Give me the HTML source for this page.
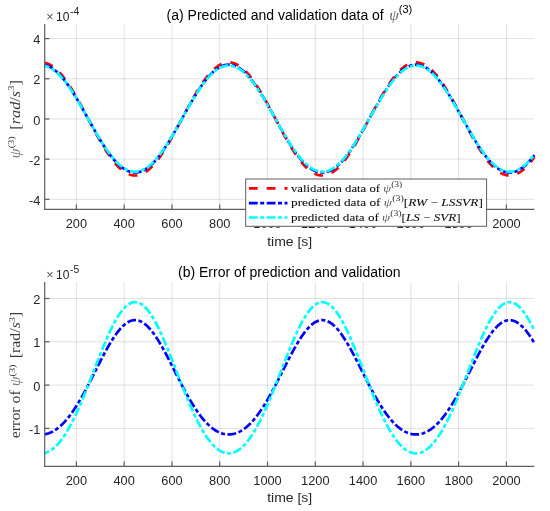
<!DOCTYPE html>
<html><head><meta charset="utf-8"><title>plot</title>
<style>
html,body{margin:0;padding:0;background:#fff;}
body{width:550px;height:511px;overflow:hidden;}
svg{display:block;}
.tk{font-family:"Liberation Sans",Arial,sans-serif;font-size:12.8px;fill:#262626;}
.ex{font-family:"Liberation Sans",Arial,sans-serif;font-size:12px;fill:#262626;}
.exs{font-size:10.4px;}
.ti{font-family:"Liberation Sans",Arial,sans-serif;font-size:14px;fill:#000;}
.psi{font-family:"Liberation Serif",serif;font-style:italic;fill:#666;font-size:15.5px;}
.tsup{font-size:11px;}
.xl{font-family:"Liberation Sans",Arial,sans-serif;font-size:13.4px;fill:#262626;}
.yl{font-family:"Liberation Serif",serif;font-size:14px;fill:#3c3c3c;}
.ypsi{font-style:italic;fill:#808080;}
.it{font-style:italic;}
.ysup{font-size:9px;}
.lg{font-family:"Liberation Serif",serif;font-size:10.7px;fill:#111;stroke:#111;stroke-width:0.08px;}
.lpsi{font-style:italic;fill:#555;stroke:none;}
.lsup{font-size:8px;fill:#333;stroke:none;}
</style></head>
<body>
<svg width="550" height="511" viewBox="0 0 550 511">
<rect width="550" height="511" fill="#ffffff"/>
<line x1="76.40" y1="24.00" x2="76.40" y2="209.30" stroke="#262626" stroke-opacity="0.135" stroke-width="1"/>
<line x1="124.18" y1="24.00" x2="124.18" y2="209.30" stroke="#262626" stroke-opacity="0.135" stroke-width="1"/>
<line x1="171.96" y1="24.00" x2="171.96" y2="209.30" stroke="#262626" stroke-opacity="0.135" stroke-width="1"/>
<line x1="219.73" y1="24.00" x2="219.73" y2="209.30" stroke="#262626" stroke-opacity="0.135" stroke-width="1"/>
<line x1="267.51" y1="24.00" x2="267.51" y2="209.30" stroke="#262626" stroke-opacity="0.135" stroke-width="1"/>
<line x1="315.29" y1="24.00" x2="315.29" y2="209.30" stroke="#262626" stroke-opacity="0.135" stroke-width="1"/>
<line x1="363.07" y1="24.00" x2="363.07" y2="209.30" stroke="#262626" stroke-opacity="0.135" stroke-width="1"/>
<line x1="410.85" y1="24.00" x2="410.85" y2="209.30" stroke="#262626" stroke-opacity="0.135" stroke-width="1"/>
<line x1="458.62" y1="24.00" x2="458.62" y2="209.30" stroke="#262626" stroke-opacity="0.135" stroke-width="1"/>
<line x1="506.40" y1="24.00" x2="506.40" y2="209.30" stroke="#262626" stroke-opacity="0.135" stroke-width="1"/>
<line x1="44.70" y1="199.31" x2="534.40" y2="199.31" stroke="#262626" stroke-opacity="0.135" stroke-width="1"/>
<line x1="44.70" y1="159.13" x2="534.40" y2="159.13" stroke="#262626" stroke-opacity="0.135" stroke-width="1"/>
<line x1="44.70" y1="118.95" x2="534.40" y2="118.95" stroke="#262626" stroke-opacity="0.135" stroke-width="1"/>
<line x1="44.70" y1="78.77" x2="534.40" y2="78.77" stroke="#262626" stroke-opacity="0.135" stroke-width="1"/>
<line x1="44.70" y1="38.59" x2="534.40" y2="38.59" stroke="#262626" stroke-opacity="0.135" stroke-width="1"/>
<path d="M44.70,62.74 L45.52,62.93 L46.33,63.17 L47.15,63.44 L47.96,63.76 L48.78,64.12 L49.60,64.52 L50.41,64.96 L51.23,65.44 L52.05,65.96 L52.86,66.52 L53.68,67.12 L54.49,67.76 L55.31,68.44 L56.13,69.16 L56.94,69.91 L57.76,70.70 L58.57,71.52 L59.39,72.39 L60.21,73.28 L61.02,74.21 L61.84,75.18 L62.66,76.17 L63.47,77.20 L64.29,78.26 L65.10,79.35 L65.92,80.47 L66.74,81.62 L67.55,82.80 L68.37,84.00 L69.19,85.23 L70.00,86.49 L70.82,87.77 L71.63,89.07 L72.45,90.40 L73.27,91.75 L74.08,93.11 L74.90,94.50 L75.71,95.90 L76.53,97.33 L77.35,98.77 L78.16,100.22 L78.98,101.69 L79.80,103.17 L80.61,104.66 L81.43,106.16 L82.24,107.68 L83.06,109.20 L83.88,110.73 L84.69,112.26 L85.51,113.80 L86.32,115.35 L87.14,116.89 L87.96,118.44 L88.77,119.99 L89.59,121.54 L90.41,123.08 L91.22,124.63 L92.04,126.16 L92.85,127.70 L93.67,129.22 L94.49,130.74 L95.30,132.25 L96.12,133.75 L96.93,135.24 L97.75,136.72 L98.57,138.18 L99.38,139.63 L100.20,141.06 L101.02,142.48 L101.83,143.88 L102.65,145.26 L103.46,146.62 L104.28,147.96 L105.10,149.28 L105.91,150.57 L106.73,151.84 L107.54,153.09 L108.36,154.31 L109.18,155.51 L109.99,156.68 L110.81,157.81 L111.63,158.93 L112.44,160.01 L113.26,161.05 L114.07,162.07 L114.89,163.06 L115.71,164.01 L116.52,164.93 L117.34,165.81 L118.16,166.66 L118.97,167.48 L119.79,168.25 L120.60,168.99 L121.42,169.70 L122.24,170.36 L123.05,170.99 L123.87,171.57 L124.68,172.12 L125.50,172.63 L126.32,173.09 L127.13,173.52 L127.95,173.91 L128.77,174.25 L129.58,174.56 L130.40,174.82 L131.21,175.04 L132.03,175.21 L132.85,175.35 L133.66,175.44 L134.48,175.49 L135.29,175.50 L136.11,175.47 L136.93,175.39 L137.74,175.27 L138.56,175.11 L139.38,174.91 L140.19,174.66 L141.01,174.38 L141.82,174.05 L142.64,173.68 L143.46,173.27 L144.27,172.82 L145.09,172.32 L145.90,171.79 L146.72,171.22 L147.54,170.61 L148.35,169.96 L149.17,169.27 L149.99,168.55 L150.80,167.79 L151.62,166.99 L152.43,166.15 L153.25,165.28 L154.07,164.38 L154.88,163.44 L155.70,162.47 L156.51,161.46 L157.33,160.42 L158.15,159.36 L158.96,158.26 L159.78,157.13 L160.60,155.97 L161.41,154.79 L162.23,153.58 L163.04,152.34 L163.86,151.08 L164.68,149.79 L165.49,148.48 L166.31,147.15 L167.13,145.80 L167.94,144.43 L168.76,143.03 L169.57,141.62 L170.39,140.20 L171.21,138.75 L172.02,137.30 L172.84,135.82 L173.65,134.34 L174.47,132.84 L175.29,131.34 L176.10,129.82 L176.92,128.30 L177.74,126.77 L178.55,125.23 L179.37,123.69 L180.18,122.15 L181.00,120.60 L181.82,119.05 L182.63,117.50 L183.45,115.96 L184.26,114.41 L185.08,112.87 L185.90,111.33 L186.71,109.80 L187.53,108.28 L188.35,106.76 L189.16,105.25 L189.98,103.76 L190.79,102.27 L191.61,100.80 L192.43,99.34 L193.24,97.89 L194.06,96.46 L194.87,95.05 L195.69,93.66 L196.51,92.28 L197.32,90.93 L198.14,89.59 L198.96,88.28 L199.77,86.99 L200.59,85.73 L201.40,84.49 L202.22,83.27 L203.04,82.08 L203.85,80.92 L204.67,79.79 L205.48,78.69 L206.30,77.62 L207.12,76.58 L207.93,75.57 L208.75,74.59 L209.57,73.64 L210.38,72.74 L211.20,71.86 L212.01,71.02 L212.83,70.22 L213.65,69.45 L214.46,68.72 L215.28,68.03 L216.10,67.37 L216.91,66.76 L217.73,66.18 L218.54,65.64 L219.36,65.15 L220.18,64.69 L220.99,64.27 L221.81,63.90 L222.62,63.56 L223.44,63.27 L224.26,63.02 L225.07,62.81 L225.89,62.65 L226.71,62.52 L227.52,62.44 L228.34,62.40 L229.15,62.40 L229.97,62.45 L230.79,62.54 L231.60,62.67 L232.42,62.84 L233.23,63.05 L234.05,63.31 L234.87,63.61 L235.68,63.94 L236.50,64.33 L237.32,64.75 L238.13,65.21 L238.95,65.71 L239.76,66.25 L240.58,66.83 L241.40,67.46 L242.21,68.11 L243.03,68.81 L243.84,69.55 L244.66,70.32 L245.48,71.13 L246.29,71.97 L247.11,72.85 L247.93,73.77 L248.74,74.71 L249.56,75.70 L250.37,76.71 L251.19,77.75 L252.01,78.83 L252.82,79.94 L253.64,81.07 L254.45,82.24 L255.27,83.43 L256.09,84.65 L256.90,85.89 L257.72,87.16 L258.54,88.45 L259.35,89.77 L260.17,91.10 L260.98,92.46 L261.80,93.84 L262.62,95.24 L263.43,96.65 L264.25,98.08 L265.07,99.53 L265.88,100.99 L266.70,102.46 L267.51,103.95 L268.33,105.45 L269.15,106.96 L269.96,108.48 L270.78,110.00 L271.59,111.53 L272.41,113.07 L273.23,114.61 L274.04,116.16 L274.86,117.71 L275.68,119.25 L276.49,120.80 L277.31,122.35 L278.12,123.89 L278.94,125.43 L279.76,126.97 L280.57,128.50 L281.39,130.02 L282.20,131.54 L283.02,133.04 L283.84,134.53 L284.65,136.02 L285.47,137.49 L286.29,138.94 L287.10,140.38 L287.92,141.81 L288.73,143.22 L289.55,144.61 L290.37,145.98 L291.18,147.33 L292.00,148.65 L292.81,149.96 L293.63,151.24 L294.45,152.50 L295.26,153.74 L296.08,154.94 L296.90,156.12 L297.71,157.28 L298.53,158.40 L299.34,159.50 L300.16,160.56 L300.98,161.59 L301.79,162.59 L302.61,163.56 L303.42,164.50 L304.24,165.40 L305.06,166.26 L305.87,167.09 L306.69,167.89 L307.51,168.65 L308.32,169.37 L309.14,170.05 L309.95,170.69 L310.77,171.30 L311.59,171.86 L312.40,172.39 L313.22,172.88 L314.04,173.32 L314.85,173.73 L315.67,174.09 L316.48,174.42 L317.30,174.70 L318.12,174.94 L318.93,175.13 L319.75,175.29 L320.56,175.40 L321.38,175.47 L322.20,175.50 L323.01,175.49 L323.83,175.43 L324.65,175.33 L325.46,175.19 L326.28,175.01 L327.09,174.78 L327.91,174.52 L328.73,174.21 L329.54,173.86 L330.36,173.47 L331.17,173.04 L331.99,172.56 L332.81,172.05 L333.62,171.50 L334.44,170.91 L335.26,170.28 L336.07,169.61 L336.89,168.90 L337.70,168.15 L338.52,167.37 L339.34,166.55 L340.15,165.70 L340.97,164.81 L341.78,163.89 L342.60,162.93 L343.42,161.94 L344.23,160.92 L345.05,159.87 L345.87,158.78 L346.68,157.67 L347.50,156.52 L348.31,155.35 L349.13,154.16 L349.95,152.93 L350.76,151.68 L351.58,150.41 L352.39,149.11 L353.21,147.79 L354.03,146.44 L354.84,145.08 L355.66,143.70 L356.48,142.30 L357.29,140.88 L358.11,139.44 L358.92,137.99 L359.74,136.52 L360.56,135.05 L361.37,133.56 L362.19,132.06 L363.01,130.54 L363.82,129.02 L364.64,127.50 L365.45,125.96 L366.27,124.42 L367.09,122.88 L367.90,121.34 L368.72,119.79 L369.53,118.24 L370.35,116.69 L371.17,115.15 L371.98,113.60 L372.80,112.06 L373.62,110.53 L374.43,109.00 L375.25,107.48 L376.06,105.97 L376.88,104.47 L377.70,102.97 L378.51,101.50 L379.33,100.03 L380.14,98.58 L380.96,97.14 L381.78,95.72 L382.59,94.32 L383.41,92.93 L384.23,91.57 L385.04,90.22 L385.86,88.90 L386.67,87.60 L387.49,86.32 L388.31,85.07 L389.12,83.84 L389.94,82.64 L390.75,81.47 L391.57,80.32 L392.39,79.21 L393.20,78.12 L394.02,77.07 L394.84,76.04 L395.65,75.05 L396.47,74.09 L397.28,73.16 L398.10,72.27 L398.92,71.41 L399.73,70.59 L400.55,69.81 L401.36,69.06 L402.18,68.35 L403.00,67.68 L403.81,67.04 L404.63,66.45 L405.45,65.89 L406.26,65.38 L407.08,64.90 L407.89,64.47 L408.71,64.07 L409.53,63.72 L410.34,63.41 L411.16,63.14 L411.98,62.91 L412.79,62.72 L413.61,62.58 L414.42,62.47 L415.24,62.41 L416.06,62.40 L416.87,62.42 L417.69,62.49 L418.50,62.60 L419.32,62.75 L420.14,62.95 L420.95,63.18 L421.77,63.46 L422.59,63.78 L423.40,64.14 L424.22,64.54 L425.03,64.98 L425.85,65.47 L426.67,65.99 L427.48,66.55 L428.30,67.16 L429.11,67.80 L429.93,68.48 L430.75,69.19 L431.56,69.95 L432.38,70.74 L433.20,71.57 L434.01,72.43 L434.83,73.33 L435.64,74.26 L436.46,75.23 L437.28,76.22 L438.09,77.25 L438.91,78.32 L439.72,79.41 L440.54,80.53 L441.36,81.68 L442.17,82.86 L442.99,84.06 L443.81,85.30 L444.62,86.55 L445.44,87.83 L446.25,89.14 L447.07,90.47 L447.89,91.81 L448.70,93.18 L449.52,94.57 L450.33,95.98 L451.15,97.40 L451.97,98.84 L452.78,100.29 L453.60,101.76 L454.42,103.24 L455.23,104.74 L456.05,106.24 L456.86,107.75 L457.68,109.28 L458.50,110.80 L459.31,112.34 L460.13,113.88 L460.95,115.42 L461.76,116.97 L462.58,118.52 L463.39,120.07 L464.21,121.61 L465.03,123.16 L465.84,124.70 L466.66,126.24 L467.47,127.77 L468.29,129.30 L469.11,130.82 L469.92,132.33 L470.74,133.83 L471.56,135.31 L472.37,136.79 L473.19,138.25 L474.00,139.70 L474.82,141.13 L475.64,142.55 L476.45,143.95 L477.27,145.33 L478.08,146.69 L478.90,148.03 L479.72,149.34 L480.53,150.64 L481.35,151.91 L482.17,153.15 L482.98,154.37 L483.80,155.57 L484.61,156.73 L485.43,157.87 L486.25,158.98 L487.06,160.06 L487.88,161.11 L488.69,162.12 L489.51,163.11 L490.33,164.06 L491.14,164.97 L491.96,165.86 L492.78,166.70 L493.59,167.52 L494.41,168.29 L495.22,169.03 L496.04,169.73 L496.86,170.39 L497.67,171.02 L498.49,171.60 L499.30,172.15 L500.12,172.65 L500.94,173.12 L501.75,173.54 L502.57,173.93 L503.39,174.27 L504.20,174.57 L505.02,174.83 L505.83,175.05 L506.65,175.22 L507.47,175.35 L508.28,175.45 L509.10,175.49 L509.92,175.50 L510.73,175.46 L511.55,175.39 L512.36,175.27 L513.18,175.10 L514.00,174.90 L514.81,174.65 L515.63,174.36 L516.44,174.03 L517.26,173.66 L518.08,173.25 L518.89,172.79 L519.71,172.30 L520.53,171.77 L521.34,171.19 L522.16,170.58 L522.97,169.93 L523.79,169.24 L524.61,168.51 L525.42,167.75 L526.24,166.95 L527.05,166.11 L527.87,165.24 L528.69,164.33 L529.50,163.39 L530.32,162.42 L531.14,161.41 L531.95,160.37 L532.77,159.30 L533.58,158.20 L534.40,157.07" fill="none" stroke="#ff0000" stroke-width="2.70" stroke-dasharray="8.8 9" stroke-dashoffset="0.00" stroke-linejoin="round"/>
<path d="M44.70,65.02 L45.52,65.21 L46.33,65.43 L47.15,65.70 L47.96,66.01 L48.78,66.35 L49.60,66.74 L50.41,67.16 L51.23,67.63 L52.05,68.13 L52.86,68.67 L53.68,69.25 L54.49,69.87 L55.31,70.52 L56.13,71.21 L56.94,71.94 L57.76,72.70 L58.57,73.49 L59.39,74.32 L60.21,75.19 L61.02,76.08 L61.84,77.01 L62.66,77.97 L63.47,78.96 L64.29,79.98 L65.10,81.03 L65.92,82.11 L66.74,83.21 L67.55,84.35 L68.37,85.50 L69.19,86.69 L70.00,87.89 L70.82,89.12 L71.63,90.37 L72.45,91.64 L73.27,92.94 L74.08,94.25 L74.90,95.58 L75.71,96.93 L76.53,98.29 L77.35,99.67 L78.16,101.06 L78.98,102.46 L79.80,103.88 L80.61,105.31 L81.43,106.75 L82.24,108.19 L83.06,109.65 L83.88,111.11 L84.69,112.57 L85.51,114.04 L86.32,115.51 L87.14,116.99 L87.96,118.46 L88.77,119.94 L89.59,121.42 L90.41,122.89 L91.22,124.36 L92.04,125.82 L92.85,127.28 L93.67,128.73 L94.49,130.17 L95.30,131.61 L96.12,133.03 L96.93,134.45 L97.75,135.85 L98.57,137.24 L99.38,138.61 L100.20,139.97 L101.02,141.31 L101.83,142.64 L102.65,143.95 L103.46,145.23 L104.28,146.50 L105.10,147.75 L105.91,148.98 L106.73,150.18 L107.54,151.36 L108.36,152.51 L109.18,153.64 L109.99,154.75 L110.81,155.82 L111.63,156.87 L112.44,157.89 L113.26,158.88 L114.07,159.84 L114.89,160.77 L115.71,161.67 L116.52,162.53 L117.34,163.37 L118.16,164.17 L118.97,164.93 L119.79,165.67 L120.60,166.36 L121.42,167.02 L122.24,167.65 L123.05,168.24 L123.87,168.79 L124.68,169.31 L125.50,169.78 L126.32,170.22 L127.13,170.63 L127.95,170.99 L128.77,171.31 L129.58,171.60 L130.40,171.84 L131.21,172.05 L132.03,172.22 L132.85,172.34 L133.66,172.43 L134.48,172.48 L135.29,172.49 L136.11,172.46 L136.93,172.38 L137.74,172.27 L138.56,172.12 L139.38,171.93 L140.19,171.70 L141.01,171.43 L141.82,171.12 L142.64,170.77 L143.46,170.39 L144.27,169.96 L145.09,169.50 L145.90,169.00 L146.72,168.46 L147.54,167.89 L148.35,167.28 L149.17,166.63 L149.99,165.95 L150.80,165.23 L151.62,164.47 L152.43,163.69 L153.25,162.87 L154.07,162.01 L154.88,161.13 L155.70,160.21 L156.51,159.26 L157.33,158.28 L158.15,157.28 L158.96,156.24 L159.78,155.17 L160.60,154.08 L161.41,152.96 L162.23,151.82 L163.04,150.65 L163.86,149.45 L164.68,148.24 L165.49,147.00 L166.31,145.74 L167.13,144.46 L167.94,143.16 L168.76,141.84 L169.57,140.50 L170.39,139.15 L171.21,137.78 L172.02,136.40 L172.84,135.00 L173.65,133.59 L174.47,132.17 L175.29,130.74 L176.10,129.30 L176.92,127.85 L177.74,126.40 L178.55,124.93 L179.37,123.47 L180.18,122.00 L181.00,120.52 L181.82,119.05 L182.63,117.57 L183.45,116.10 L184.26,114.62 L185.08,113.15 L185.90,111.68 L186.71,110.22 L187.53,108.76 L188.35,107.32 L189.16,105.87 L189.98,104.44 L190.79,103.02 L191.61,101.61 L192.43,100.21 L193.24,98.83 L194.06,97.46 L194.87,96.11 L195.69,94.77 L196.51,93.45 L197.32,92.15 L198.14,90.87 L198.96,89.61 L199.77,88.37 L200.59,87.16 L201.40,85.97 L202.22,84.80 L203.04,83.66 L203.85,82.54 L204.67,81.45 L205.48,80.39 L206.30,79.36 L207.12,78.36 L207.93,77.39 L208.75,76.45 L209.57,75.54 L210.38,74.66 L211.20,73.82 L212.01,73.01 L212.83,72.23 L213.65,71.49 L214.46,70.79 L215.28,70.12 L216.10,69.49 L216.91,68.90 L217.73,68.34 L218.54,67.82 L219.36,67.34 L220.18,66.90 L220.99,66.50 L221.81,66.14 L222.62,65.81 L223.44,65.53 L224.26,65.29 L225.07,65.09 L225.89,64.93 L226.71,64.81 L227.52,64.73 L228.34,64.69 L229.15,64.69 L229.97,64.74 L230.79,64.82 L231.60,64.95 L232.42,65.11 L233.23,65.32 L234.05,65.57 L234.87,65.85 L235.68,66.18 L236.50,66.55 L237.32,66.96 L238.13,67.40 L238.95,67.89 L239.76,68.41 L240.58,68.97 L241.40,69.57 L242.21,70.21 L243.03,70.88 L243.84,71.59 L244.66,72.33 L245.48,73.11 L246.29,73.93 L247.11,74.77 L247.93,75.65 L248.74,76.57 L249.56,77.51 L250.37,78.49 L251.19,79.49 L252.01,80.53 L252.82,81.59 L253.64,82.69 L254.45,83.81 L255.27,84.95 L256.09,86.12 L256.90,87.32 L257.72,88.53 L258.54,89.78 L259.35,91.04 L260.17,92.32 L260.98,93.62 L261.80,94.94 L262.62,96.28 L263.43,97.64 L264.25,99.01 L265.07,100.40 L265.88,101.79 L266.70,103.21 L267.51,104.63 L268.33,106.06 L269.15,107.50 L269.96,108.95 L270.78,110.41 L271.59,111.87 L272.41,113.34 L273.23,114.81 L274.04,116.29 L274.86,117.76 L275.68,119.24 L276.49,120.72 L277.31,122.19 L278.12,123.66 L278.94,125.13 L279.76,126.59 L280.57,128.04 L281.39,129.49 L282.20,130.93 L283.02,132.36 L283.84,133.78 L284.65,135.18 L285.47,136.58 L286.29,137.96 L287.10,139.33 L287.92,140.68 L288.73,142.01 L289.55,143.33 L290.37,144.63 L291.18,145.90 L292.00,147.16 L292.81,148.40 L293.63,149.61 L294.45,150.80 L295.26,151.97 L296.08,153.11 L296.90,154.23 L297.71,155.31 L298.53,156.38 L299.34,157.41 L300.16,158.41 L300.98,159.39 L301.79,160.33 L302.61,161.25 L303.42,162.13 L304.24,162.98 L305.06,163.79 L305.87,164.57 L306.69,165.32 L307.51,166.04 L308.32,166.71 L309.14,167.36 L309.95,167.96 L310.77,168.53 L311.59,169.07 L312.40,169.56 L313.22,170.02 L314.04,170.44 L314.85,170.82 L315.67,171.16 L316.48,171.47 L317.30,171.73 L318.12,171.96 L318.93,172.14 L319.75,172.29 L320.56,172.40 L321.38,172.46 L322.20,172.49 L323.01,172.48 L323.83,172.42 L324.65,172.33 L325.46,172.20 L326.28,172.03 L327.09,171.81 L327.91,171.56 L328.73,171.27 L329.54,170.94 L330.36,170.58 L331.17,170.17 L331.99,169.72 L332.81,169.24 L333.62,168.72 L334.44,168.16 L335.26,167.57 L336.07,166.94 L336.89,166.27 L337.70,165.57 L338.52,164.84 L339.34,164.07 L340.15,163.26 L340.97,162.42 L341.78,161.55 L342.60,160.65 L343.42,159.72 L344.23,158.75 L345.05,157.76 L345.87,156.73 L346.68,155.68 L347.50,154.60 L348.31,153.50 L349.13,152.36 L349.95,151.21 L350.76,150.02 L351.58,148.82 L352.39,147.59 L353.21,146.34 L354.03,145.07 L354.84,143.78 L355.66,142.47 L356.48,141.14 L357.29,139.79 L358.11,138.43 L358.92,137.06 L359.74,135.67 L360.56,134.26 L361.37,132.85 L362.19,131.42 L363.01,129.99 L363.82,128.54 L364.64,127.09 L365.45,125.63 L366.27,124.16 L367.09,122.70 L367.90,121.22 L368.72,119.75 L369.53,118.27 L370.35,116.80 L371.17,115.32 L371.98,113.85 L372.80,112.38 L373.62,110.92 L374.43,109.46 L375.25,108.00 L376.06,106.56 L376.88,105.12 L377.70,103.70 L378.51,102.28 L379.33,100.88 L380.14,99.49 L380.96,98.11 L381.78,96.75 L382.59,95.40 L383.41,94.08 L384.23,92.77 L385.04,91.48 L385.86,90.21 L386.67,88.96 L387.49,87.73 L388.31,86.53 L389.12,85.35 L389.94,84.20 L390.75,83.07 L391.57,81.97 L392.39,80.89 L393.20,79.85 L394.02,78.83 L394.84,77.84 L395.65,76.89 L396.47,75.96 L397.28,75.07 L398.10,74.21 L398.92,73.39 L399.73,72.60 L400.55,71.84 L401.36,71.12 L402.18,70.43 L403.00,69.79 L403.81,69.17 L404.63,68.60 L405.45,68.06 L406.26,67.56 L407.08,67.11 L407.89,66.68 L408.71,66.30 L409.53,65.96 L410.34,65.66 L411.16,65.40 L411.98,65.18 L412.79,65.00 L413.61,64.86 L414.42,64.76 L415.24,64.70 L416.06,64.69 L416.87,64.71 L417.69,64.78 L418.50,64.88 L419.32,65.03 L420.14,65.22 L420.95,65.44 L421.77,65.71 L422.59,66.02 L423.40,66.37 L424.22,66.76 L425.03,67.19 L425.85,67.65 L426.67,68.16 L427.48,68.70 L428.30,69.28 L429.11,69.90 L429.93,70.56 L430.75,71.25 L431.56,71.97 L432.38,72.74 L433.20,73.53 L434.01,74.37 L434.83,75.23 L435.64,76.13 L436.46,77.06 L437.28,78.02 L438.09,79.01 L438.91,80.03 L439.72,81.09 L440.54,82.16 L441.36,83.27 L442.17,84.40 L442.99,85.56 L443.81,86.75 L444.62,87.95 L445.44,89.18 L446.25,90.44 L447.07,91.71 L447.89,93.00 L448.70,94.32 L449.52,95.65 L450.33,96.99 L451.15,98.36 L451.97,99.74 L452.78,101.13 L453.60,102.53 L454.42,103.95 L455.23,105.38 L456.05,106.82 L456.86,108.26 L457.68,109.72 L458.50,111.18 L459.31,112.65 L460.13,114.12 L460.95,115.59 L461.76,117.06 L462.58,118.54 L463.39,120.01 L464.21,121.49 L465.03,122.96 L465.84,124.43 L466.66,125.89 L467.47,127.35 L468.29,128.80 L469.11,130.25 L469.92,131.68 L470.74,133.10 L471.56,134.52 L472.37,135.92 L473.19,137.31 L474.00,138.68 L474.82,140.04 L475.64,141.38 L476.45,142.70 L477.27,144.01 L478.08,145.30 L478.90,146.57 L479.72,147.81 L480.53,149.04 L481.35,150.24 L482.17,151.42 L482.98,152.57 L483.80,153.70 L484.61,154.80 L485.43,155.87 L486.25,156.92 L487.06,157.94 L487.88,158.93 L488.69,159.89 L489.51,160.82 L490.33,161.71 L491.14,162.58 L491.96,163.41 L492.78,164.21 L493.59,164.97 L494.41,165.70 L495.22,166.40 L496.04,167.06 L496.86,167.68 L497.67,168.27 L498.49,168.82 L499.30,169.33 L500.12,169.81 L500.94,170.25 L501.75,170.64 L502.57,171.01 L503.39,171.33 L504.20,171.61 L505.02,171.86 L505.83,172.06 L506.65,172.22 L507.47,172.35 L508.28,172.44 L509.10,172.48 L509.92,172.49 L510.73,172.45 L511.55,172.38 L512.36,172.27 L513.18,172.11 L514.00,171.92 L514.81,171.69 L515.63,171.42 L516.44,171.10 L517.26,170.76 L518.08,170.37 L518.89,169.94 L519.71,169.48 L520.53,168.97 L521.34,168.43 L522.16,167.86 L522.97,167.24 L523.79,166.59 L524.61,165.91 L525.42,165.19 L526.24,164.44 L527.05,163.65 L527.87,162.82 L528.69,161.97 L529.50,161.08 L530.32,160.16 L531.14,159.21 L531.95,158.23 L532.77,157.22 L533.58,156.19 L534.40,155.12" fill="none" stroke="#0000ff" stroke-width="2.70" stroke-dasharray="8.8 2.5 4 2.5" stroke-dashoffset="0.00" stroke-linejoin="round"/>
<path d="M44.70,65.89 L45.52,66.07 L46.33,66.29 L47.15,66.56 L47.96,66.86 L48.78,67.20 L49.60,67.58 L50.41,68.00 L51.23,68.45 L52.05,68.95 L52.86,69.48 L53.68,70.05 L54.49,70.66 L55.31,71.30 L56.13,71.98 L56.94,72.69 L57.76,73.44 L58.57,74.22 L59.39,75.04 L60.21,75.89 L61.02,76.77 L61.84,77.68 L62.66,78.63 L63.47,79.60 L64.29,80.61 L65.10,81.64 L65.92,82.70 L66.74,83.79 L67.55,84.90 L68.37,86.04 L69.19,87.20 L70.00,88.39 L70.82,89.60 L71.63,90.83 L72.45,92.08 L73.27,93.35 L74.08,94.64 L74.90,95.95 L75.71,97.28 L76.53,98.62 L77.35,99.97 L78.16,101.34 L78.98,102.73 L79.80,104.12 L80.61,105.53 L81.43,106.94 L82.24,108.36 L83.06,109.79 L83.88,111.23 L84.69,112.67 L85.51,114.12 L86.32,115.57 L87.14,117.02 L87.96,118.47 L88.77,119.92 L89.59,121.38 L90.41,122.82 L91.22,124.27 L92.04,125.71 L92.85,127.15 L93.67,128.57 L94.49,130.00 L95.30,131.41 L96.12,132.81 L96.93,134.20 L97.75,135.58 L98.57,136.95 L99.38,138.30 L100.20,139.64 L101.02,140.96 L101.83,142.27 L102.65,143.55 L103.46,144.82 L104.28,146.07 L105.10,147.30 L105.91,148.51 L106.73,149.69 L107.54,150.85 L108.36,151.99 L109.18,153.10 L109.99,154.18 L110.81,155.24 L111.63,156.28 L112.44,157.28 L113.26,158.26 L114.07,159.20 L114.89,160.12 L115.71,161.00 L116.52,161.85 L117.34,162.67 L118.16,163.46 L118.97,164.22 L119.79,164.94 L120.60,165.62 L121.42,166.27 L122.24,166.89 L123.05,167.47 L123.87,168.01 L124.68,168.52 L125.50,168.99 L126.32,169.43 L127.13,169.82 L127.95,170.18 L128.77,170.50 L129.58,170.78 L130.40,171.02 L131.21,171.22 L132.03,171.39 L132.85,171.51 L133.66,171.60 L134.48,171.65 L135.29,171.65 L136.11,171.62 L136.93,171.55 L137.74,171.44 L138.56,171.29 L139.38,171.11 L140.19,170.88 L141.01,170.61 L141.82,170.31 L142.64,169.97 L143.46,169.59 L144.27,169.17 L145.09,168.71 L145.90,168.22 L146.72,167.69 L147.54,167.12 L148.35,166.52 L149.17,165.88 L149.99,165.21 L150.80,164.50 L151.62,163.76 L152.43,162.99 L153.25,162.18 L154.07,161.34 L154.88,160.47 L155.70,159.57 L156.51,158.63 L157.33,157.67 L158.15,156.68 L158.96,155.66 L159.78,154.61 L160.60,153.53 L161.41,152.43 L162.23,151.30 L163.04,150.15 L163.86,148.98 L164.68,147.78 L165.49,146.56 L166.31,145.32 L167.13,144.06 L167.94,142.78 L168.76,141.48 L169.57,140.16 L170.39,138.83 L171.21,137.48 L172.02,136.12 L172.84,134.75 L173.65,133.36 L174.47,131.96 L175.29,130.55 L176.10,129.14 L176.92,127.71 L177.74,126.28 L178.55,124.84 L179.37,123.40 L180.18,121.95 L181.00,120.50 L181.82,119.05 L182.63,117.59 L183.45,116.14 L184.26,114.69 L185.08,113.24 L185.90,111.80 L186.71,110.36 L187.53,108.93 L188.35,107.50 L189.16,106.08 L189.98,104.67 L190.79,103.28 L191.61,101.89 L192.43,100.51 L193.24,99.15 L194.06,97.80 L194.87,96.47 L195.69,95.16 L196.51,93.86 L197.32,92.58 L198.14,91.32 L198.96,90.08 L199.77,88.86 L200.59,87.67 L201.40,86.49 L202.22,85.35 L203.04,84.22 L203.85,83.13 L204.67,82.05 L205.48,81.01 L206.30,80.00 L207.12,79.01 L207.93,78.05 L208.75,77.13 L209.57,76.23 L210.38,75.37 L211.20,74.54 L212.01,73.75 L212.83,72.98 L213.65,72.26 L214.46,71.56 L215.28,70.91 L216.10,70.29 L216.91,69.70 L217.73,69.15 L218.54,68.64 L219.36,68.17 L220.18,67.74 L220.99,67.34 L221.81,66.99 L222.62,66.67 L223.44,66.39 L224.26,66.15 L225.07,65.96 L225.89,65.80 L226.71,65.68 L227.52,65.60 L228.34,65.56 L229.15,65.57 L229.97,65.61 L230.79,65.69 L231.60,65.82 L232.42,65.98 L233.23,66.18 L234.05,66.43 L234.87,66.71 L235.68,67.03 L236.50,67.39 L237.32,67.79 L238.13,68.23 L238.95,68.71 L239.76,69.22 L240.58,69.78 L241.40,70.36 L242.21,70.99 L243.03,71.65 L243.84,72.35 L244.66,73.08 L245.48,73.85 L246.29,74.65 L247.11,75.48 L247.93,76.35 L248.74,77.25 L249.56,78.18 L250.37,79.14 L251.19,80.13 L252.01,81.15 L252.82,82.19 L253.64,83.27 L254.45,84.37 L255.27,85.49 L256.09,86.65 L256.90,87.82 L257.72,89.02 L258.54,90.24 L259.35,91.48 L260.17,92.75 L260.98,94.03 L261.80,95.33 L262.62,96.65 L263.43,97.98 L264.25,99.33 L265.07,100.69 L265.88,102.07 L266.70,103.46 L267.51,104.86 L268.33,106.27 L269.15,107.69 L269.96,109.11 L270.78,110.55 L271.59,111.99 L272.41,113.43 L273.23,114.88 L274.04,116.33 L274.86,117.78 L275.68,119.24 L276.49,120.69 L277.31,122.14 L278.12,123.58 L278.94,125.03 L279.76,126.47 L280.57,127.90 L281.39,129.32 L282.20,130.74 L283.02,132.15 L283.84,133.54 L284.65,134.93 L285.47,136.30 L286.29,137.66 L287.10,139.01 L287.92,140.34 L288.73,141.65 L289.55,142.94 L290.37,144.22 L291.18,145.48 L292.00,146.72 L292.81,147.94 L293.63,149.13 L294.45,150.30 L295.26,151.45 L296.08,152.57 L296.90,153.67 L297.71,154.74 L298.53,155.79 L299.34,156.81 L300.16,157.80 L300.98,158.76 L301.79,159.69 L302.61,160.58 L303.42,161.45 L304.24,162.29 L305.06,163.09 L305.87,163.86 L306.69,164.60 L307.51,165.30 L308.32,165.97 L309.14,166.60 L309.95,167.20 L310.77,167.76 L311.59,168.29 L312.40,168.77 L313.22,169.22 L314.04,169.64 L314.85,170.01 L315.67,170.35 L316.48,170.65 L317.30,170.91 L318.12,171.13 L318.93,171.31 L319.75,171.46 L320.56,171.56 L321.38,171.63 L322.20,171.66 L323.01,171.64 L323.83,171.59 L324.65,171.50 L325.46,171.37 L326.28,171.20 L327.09,170.99 L327.91,170.74 L328.73,170.46 L329.54,170.13 L330.36,169.77 L331.17,169.37 L331.99,168.93 L332.81,168.46 L333.62,167.95 L334.44,167.40 L335.26,166.81 L336.07,166.19 L336.89,165.54 L337.70,164.84 L338.52,164.12 L339.34,163.36 L340.15,162.57 L340.97,161.74 L341.78,160.89 L342.60,160.00 L343.42,159.08 L344.23,158.13 L345.05,157.15 L345.87,156.14 L346.68,155.11 L347.50,154.04 L348.31,152.96 L349.13,151.84 L349.95,150.70 L350.76,149.54 L351.58,148.35 L352.39,147.14 L353.21,145.91 L354.03,144.66 L354.84,143.39 L355.66,142.10 L356.48,140.79 L357.29,139.47 L358.11,138.13 L358.92,136.77 L359.74,135.40 L360.56,134.02 L361.37,132.63 L362.19,131.22 L363.01,129.81 L363.82,128.39 L364.64,126.96 L365.45,125.52 L366.27,124.08 L367.09,122.64 L367.90,121.19 L368.72,119.74 L369.53,118.28 L370.35,116.83 L371.17,115.38 L371.98,113.93 L372.80,112.48 L373.62,111.04 L374.43,109.61 L375.25,108.18 L376.06,106.75 L376.88,105.34 L377.70,103.94 L378.51,102.55 L379.33,101.16 L380.14,99.80 L380.96,98.44 L381.78,97.10 L382.59,95.78 L383.41,94.47 L384.23,93.19 L385.04,91.92 L385.86,90.67 L386.67,89.44 L387.49,88.23 L388.31,87.05 L389.12,85.89 L389.94,84.75 L390.75,83.64 L391.57,82.56 L392.39,81.50 L393.20,80.47 L394.02,79.47 L394.84,78.50 L395.65,77.56 L396.47,76.65 L397.28,75.78 L398.10,74.93 L398.92,74.12 L399.73,73.34 L400.55,72.60 L401.36,71.89 L402.18,71.21 L403.00,70.58 L403.81,69.97 L404.63,69.41 L405.45,68.88 L406.26,68.39 L407.08,67.94 L407.89,67.53 L408.71,67.15 L409.53,66.82 L410.34,66.52 L411.16,66.26 L411.98,66.05 L412.79,65.87 L413.61,65.73 L414.42,65.63 L415.24,65.58 L416.06,65.56 L416.87,65.58 L417.69,65.65 L418.50,65.75 L419.32,65.90 L420.14,66.08 L420.95,66.31 L421.77,66.57 L422.59,66.87 L423.40,67.22 L424.22,67.60 L425.03,68.02 L425.85,68.48 L426.67,68.97 L427.48,69.51 L428.30,70.08 L429.11,70.69 L429.93,71.33 L430.75,72.01 L431.56,72.73 L432.38,73.48 L433.20,74.26 L434.01,75.08 L434.83,75.93 L435.64,76.82 L436.46,77.73 L437.28,78.68 L438.09,79.65 L438.91,80.66 L439.72,81.69 L440.54,82.75 L441.36,83.84 L442.17,84.96 L442.99,86.10 L443.81,87.26 L444.62,88.45 L445.44,89.66 L446.25,90.89 L447.07,92.14 L447.89,93.42 L448.70,94.71 L449.52,96.02 L450.33,97.34 L451.15,98.69 L451.97,100.04 L452.78,101.41 L453.60,102.80 L454.42,104.19 L455.23,105.60 L456.05,107.01 L456.86,108.43 L457.68,109.87 L458.50,111.30 L459.31,112.75 L460.13,114.19 L460.95,115.64 L461.76,117.09 L462.58,118.55 L463.39,120.00 L464.21,121.45 L465.03,122.90 L465.84,124.34 L466.66,125.78 L467.47,127.22 L468.29,128.65 L469.11,130.07 L469.92,131.48 L470.74,132.88 L471.56,134.27 L472.37,135.65 L473.19,137.02 L474.00,138.37 L474.82,139.71 L475.64,141.03 L476.45,142.33 L477.27,143.62 L478.08,144.89 L478.90,146.13 L479.72,147.36 L480.53,148.57 L481.35,149.75 L482.17,150.91 L482.98,152.04 L483.80,153.15 L484.61,154.24 L485.43,155.30 L486.25,156.33 L487.06,157.33 L487.88,158.30 L488.69,159.25 L489.51,160.16 L490.33,161.04 L491.14,161.90 L491.96,162.71 L492.78,163.50 L493.59,164.25 L494.41,164.97 L495.22,165.66 L496.04,166.31 L496.86,166.92 L497.67,167.50 L498.49,168.04 L499.30,168.55 L500.12,169.01 L500.94,169.45 L501.75,169.84 L502.57,170.19 L503.39,170.51 L504.20,170.79 L505.02,171.03 L505.83,171.23 L506.65,171.40 L507.47,171.52 L508.28,171.60 L509.10,171.65 L509.92,171.65 L510.73,171.62 L511.55,171.55 L512.36,171.44 L513.18,171.28 L514.00,171.09 L514.81,170.87 L515.63,170.60 L516.44,170.29 L517.26,169.95 L518.08,169.57 L518.89,169.15 L519.71,168.69 L520.53,168.19 L521.34,167.66 L522.16,167.09 L522.97,166.49 L523.79,165.85 L524.61,165.18 L525.42,164.47 L526.24,163.73 L527.05,162.95 L527.87,162.14 L528.69,161.30 L529.50,160.42 L530.32,159.52 L531.14,158.58 L531.95,157.62 L532.77,156.63 L533.58,155.60 L534.40,154.55" fill="none" stroke="#00ffff" stroke-width="2.70" stroke-dasharray="8.8 2.5 4 2.5" stroke-dashoffset="4.00" stroke-linejoin="round"/>
<path d="M44.70,24.00 L44.70,209.30 L534.40,209.30" fill="none" stroke="#5e5e5e" stroke-width="1.2"/>
<line x1="76.40" y1="209.30" x2="76.40" y2="204.50" stroke="#5e5e5e" stroke-width="1.2"/>
<line x1="124.18" y1="209.30" x2="124.18" y2="204.50" stroke="#5e5e5e" stroke-width="1.2"/>
<line x1="171.96" y1="209.30" x2="171.96" y2="204.50" stroke="#5e5e5e" stroke-width="1.2"/>
<line x1="219.73" y1="209.30" x2="219.73" y2="204.50" stroke="#5e5e5e" stroke-width="1.2"/>
<line x1="267.51" y1="209.30" x2="267.51" y2="204.50" stroke="#5e5e5e" stroke-width="1.2"/>
<line x1="315.29" y1="209.30" x2="315.29" y2="204.50" stroke="#5e5e5e" stroke-width="1.2"/>
<line x1="363.07" y1="209.30" x2="363.07" y2="204.50" stroke="#5e5e5e" stroke-width="1.2"/>
<line x1="410.85" y1="209.30" x2="410.85" y2="204.50" stroke="#5e5e5e" stroke-width="1.2"/>
<line x1="458.62" y1="209.30" x2="458.62" y2="204.50" stroke="#5e5e5e" stroke-width="1.2"/>
<line x1="506.40" y1="209.30" x2="506.40" y2="204.50" stroke="#5e5e5e" stroke-width="1.2"/>
<line x1="44.70" y1="199.31" x2="49.50" y2="199.31" stroke="#5e5e5e" stroke-width="1.2"/>
<line x1="44.70" y1="159.13" x2="49.50" y2="159.13" stroke="#5e5e5e" stroke-width="1.2"/>
<line x1="44.70" y1="118.95" x2="49.50" y2="118.95" stroke="#5e5e5e" stroke-width="1.2"/>
<line x1="44.70" y1="78.77" x2="49.50" y2="78.77" stroke="#5e5e5e" stroke-width="1.2"/>
<line x1="44.70" y1="38.59" x2="49.50" y2="38.59" stroke="#5e5e5e" stroke-width="1.2"/>
<text x="76.40" y="228.00" text-anchor="middle" class="tk">200</text>
<text x="124.18" y="228.00" text-anchor="middle" class="tk">400</text>
<text x="171.96" y="228.00" text-anchor="middle" class="tk">600</text>
<text x="219.73" y="228.00" text-anchor="middle" class="tk">800</text>
<text x="267.51" y="228.00" text-anchor="middle" class="tk">1000</text>
<text x="315.29" y="228.00" text-anchor="middle" class="tk">1200</text>
<text x="363.07" y="228.00" text-anchor="middle" class="tk">1400</text>
<text x="410.85" y="228.00" text-anchor="middle" class="tk">1600</text>
<text x="458.62" y="228.00" text-anchor="middle" class="tk">1800</text>
<text x="506.40" y="228.00" text-anchor="middle" class="tk">2000</text>
<text x="40.30" y="204.91" text-anchor="end" class="tk">-4</text>
<text x="40.30" y="164.73" text-anchor="end" class="tk">-2</text>
<text x="40.30" y="124.55" text-anchor="end" class="tk">0</text>
<text x="40.30" y="84.37" text-anchor="end" class="tk">2</text>
<text x="40.30" y="44.19" text-anchor="end" class="tk">4</text>
<text transform="translate(46.30,21.10)" class="ex"><tspan font-size="12.5px" fill="#555">&#215;</tspan><tspan dx="2.4">10</tspan><tspan class="exs" dx="0.6" dy="-6.1">-4</tspan></text>
<text transform="translate(166.60,19.60)" class="ti">(a) Predicted and validation data of <tspan class="psi" dx="1.5">&#968;</tspan><tspan class="tsup" dy="-6.3">(3)</tspan></text>
<text transform="translate(289.70,246.40) scale(1.0450,1)" text-anchor="middle" class="xl">time [s]</text>
<text transform="translate(19.90,119.30) rotate(-90) scale(1.1650,1)" text-anchor="middle" class="yl"><tspan class="ypsi">&#968;</tspan><tspan class="ysup" dy="-5.5">(3)</tspan><tspan dy="5.5" dx="2"> [</tspan><tspan class="it">rad</tspan>/<tspan class="it">s</tspan><tspan class="ysup" dy="-5.5">3</tspan><tspan dy="5.5">]</tspan></text>
<rect x="245.70" y="179.00" width="240.90" height="47.30" fill="#ffffff" stroke="#5e5e5e" stroke-width="1"/>
<line x1="248.9" y1="188.30" x2="287.5" y2="188.30" stroke="#ff0000" stroke-width="2.70" stroke-dasharray="8.8 9"/>
<line x1="248.9" y1="203.10" x2="287.5" y2="203.10" stroke="#0000ff" stroke-width="2.70" stroke-dasharray="8.8 2.5 4 2.5"/>
<line x1="248.9" y1="217.50" x2="287.5" y2="217.50" stroke="#00ffff" stroke-width="2.70" stroke-dasharray="8.8 2.5 4 2.5"/>
<text transform="translate(291.00,191.60) scale(1.1900,1)" class="lg">validation data of <tspan class="lpsi">&#968;</tspan><tspan class="lsup" dy="-4.5">(3)</tspan></text>
<text transform="translate(291.00,205.80) scale(1.2460,1)" class="lg">predicted data of <tspan class="lpsi">&#968;</tspan><tspan class="lsup" dy="-4.5">(3)</tspan><tspan dy="4.5">[</tspan><tspan class="it">RW</tspan> &#8722; <tspan class="it">LSSVR</tspan>]</text>
<text transform="translate(291.00,220.50) scale(1.2220,1)" class="lg">predicted data of <tspan class="lpsi">&#968;</tspan><tspan class="lsup" dy="-4.5">(3)</tspan><tspan dy="4.5">[</tspan><tspan class="it">LS</tspan> &#8722; <tspan class="it">SVR</tspan>]</text>
<line x1="76.40" y1="282.10" x2="76.40" y2="466.30" stroke="#262626" stroke-opacity="0.135" stroke-width="1"/>
<line x1="124.18" y1="282.10" x2="124.18" y2="466.30" stroke="#262626" stroke-opacity="0.135" stroke-width="1"/>
<line x1="171.96" y1="282.10" x2="171.96" y2="466.30" stroke="#262626" stroke-opacity="0.135" stroke-width="1"/>
<line x1="219.73" y1="282.10" x2="219.73" y2="466.30" stroke="#262626" stroke-opacity="0.135" stroke-width="1"/>
<line x1="267.51" y1="282.10" x2="267.51" y2="466.30" stroke="#262626" stroke-opacity="0.135" stroke-width="1"/>
<line x1="315.29" y1="282.10" x2="315.29" y2="466.30" stroke="#262626" stroke-opacity="0.135" stroke-width="1"/>
<line x1="363.07" y1="282.10" x2="363.07" y2="466.30" stroke="#262626" stroke-opacity="0.135" stroke-width="1"/>
<line x1="410.85" y1="282.10" x2="410.85" y2="466.30" stroke="#262626" stroke-opacity="0.135" stroke-width="1"/>
<line x1="458.62" y1="282.10" x2="458.62" y2="466.30" stroke="#262626" stroke-opacity="0.135" stroke-width="1"/>
<line x1="506.40" y1="282.10" x2="506.40" y2="466.30" stroke="#262626" stroke-opacity="0.135" stroke-width="1"/>
<line x1="44.70" y1="428.40" x2="534.40" y2="428.40" stroke="#262626" stroke-opacity="0.135" stroke-width="1"/>
<line x1="44.70" y1="385.10" x2="534.40" y2="385.10" stroke="#262626" stroke-opacity="0.135" stroke-width="1"/>
<line x1="44.70" y1="341.80" x2="534.40" y2="341.80" stroke="#262626" stroke-opacity="0.135" stroke-width="1"/>
<line x1="44.70" y1="298.50" x2="534.40" y2="298.50" stroke="#262626" stroke-opacity="0.135" stroke-width="1"/>
<path d="M44.70,434.21 L45.52,434.07 L46.33,433.89 L47.15,433.69 L47.96,433.45 L48.78,433.19 L49.60,432.89 L50.41,432.56 L51.23,432.20 L52.05,431.81 L52.86,431.39 L53.68,430.93 L54.49,430.45 L55.31,429.93 L56.13,429.38 L56.94,428.80 L57.76,428.19 L58.57,427.55 L59.39,426.88 L60.21,426.17 L61.02,425.44 L61.84,424.67 L62.66,423.87 L63.47,423.05 L64.29,422.19 L65.10,421.30 L65.92,420.38 L66.74,419.43 L67.55,418.45 L68.37,417.44 L69.19,416.41 L70.00,415.34 L70.82,414.24 L71.63,413.12 L72.45,411.97 L73.27,410.79 L74.08,409.59 L74.90,408.35 L75.71,407.10 L76.53,405.81 L77.35,404.51 L78.16,403.17 L78.98,401.82 L79.80,400.44 L80.61,399.04 L81.43,397.62 L82.24,396.18 L83.06,394.72 L83.88,393.24 L84.69,391.75 L85.51,390.24 L86.32,388.71 L87.14,387.17 L87.96,385.61 L88.77,384.05 L89.59,382.47 L90.41,380.88 L91.22,379.29 L92.04,377.68 L92.85,376.07 L93.67,374.46 L94.49,372.84 L95.30,371.23 L96.12,369.61 L96.93,367.99 L97.75,366.37 L98.57,364.76 L99.38,363.16 L100.20,361.56 L101.02,359.97 L101.83,358.39 L102.65,356.82 L103.46,355.27 L104.28,353.73 L105.10,352.21 L105.91,350.70 L106.73,349.22 L107.54,347.75 L108.36,346.31 L109.18,344.90 L109.99,343.50 L110.81,342.14 L111.63,340.80 L112.44,339.50 L113.26,338.23 L114.07,336.99 L114.89,335.78 L115.71,334.61 L116.52,333.48 L117.34,332.39 L118.16,331.33 L118.97,330.32 L119.79,329.35 L120.60,328.42 L121.42,327.54 L122.24,326.70 L123.05,325.91 L123.87,325.17 L124.68,324.47 L125.50,323.83 L126.32,323.23 L127.13,322.69 L127.95,322.20 L128.77,321.76 L129.58,321.37 L130.40,321.03 L131.21,320.75 L132.03,320.52 L132.85,320.35 L133.66,320.23 L134.48,320.16 L135.29,320.15 L136.11,320.20 L136.93,320.29 L137.74,320.45 L138.56,320.65 L139.38,320.91 L140.19,321.23 L141.01,321.60 L141.82,322.02 L142.64,322.49 L143.46,323.01 L144.27,323.59 L145.09,324.21 L145.90,324.89 L146.72,325.61 L147.54,326.38 L148.35,327.20 L149.17,328.07 L149.99,328.98 L150.80,329.93 L151.62,330.93 L152.43,331.96 L153.25,333.04 L154.07,334.16 L154.88,335.31 L155.70,336.51 L156.51,337.73 L157.33,338.99 L158.15,340.29 L158.96,341.61 L159.78,342.96 L160.60,344.34 L161.41,345.75 L162.23,347.18 L163.04,348.64 L163.86,350.11 L164.68,351.61 L165.49,353.13 L166.31,354.66 L167.13,356.21 L167.94,357.77 L168.76,359.35 L169.57,360.93 L170.39,362.53 L171.21,364.13 L172.02,365.74 L172.84,367.35 L173.65,368.97 L174.47,370.59 L175.29,372.21 L176.10,373.82 L176.92,375.44 L177.74,377.05 L178.55,378.65 L179.37,380.25 L180.18,381.84 L181.00,383.43 L181.82,385.00 L182.63,386.56 L183.45,388.10 L184.26,389.64 L185.08,391.15 L185.90,392.66 L186.71,394.14 L187.53,395.61 L188.35,397.06 L189.16,398.49 L189.98,399.89 L190.79,401.28 L191.61,402.64 L192.43,403.98 L193.24,405.30 L194.06,406.59 L194.87,407.86 L195.69,409.10 L196.51,410.32 L197.32,411.51 L198.14,412.67 L198.96,413.80 L199.77,414.91 L200.59,415.99 L201.40,417.04 L202.22,418.06 L203.04,419.05 L203.85,420.01 L204.67,420.94 L205.48,421.84 L206.30,422.71 L207.12,423.55 L207.93,424.36 L208.75,425.14 L209.57,425.89 L210.38,426.60 L211.20,427.29 L212.01,427.94 L212.83,428.57 L213.65,429.16 L214.46,429.72 L215.28,430.25 L216.10,430.74 L216.91,431.21 L217.73,431.65 L218.54,432.05 L219.36,432.42 L220.18,432.76 L220.99,433.07 L221.81,433.35 L222.62,433.60 L223.44,433.82 L224.26,434.00 L225.07,434.16 L225.89,434.28 L226.71,434.37 L227.52,434.43 L228.34,434.46 L229.15,434.46 L229.97,434.42 L230.79,434.36 L231.60,434.26 L232.42,434.14 L233.23,433.98 L234.05,433.79 L234.87,433.57 L235.68,433.32 L236.50,433.04 L237.32,432.72 L238.13,432.38 L238.95,432.00 L239.76,431.59 L240.58,431.15 L241.40,430.68 L242.21,430.18 L243.03,429.65 L243.84,429.08 L244.66,428.49 L245.48,427.86 L246.29,427.20 L247.11,426.51 L247.93,425.79 L248.74,425.04 L249.56,424.26 L250.37,423.44 L251.19,422.60 L252.01,421.72 L252.82,420.82 L253.64,419.89 L254.45,418.92 L255.27,417.93 L256.09,416.90 L256.90,415.85 L257.72,414.77 L258.54,413.66 L259.35,412.52 L260.17,411.35 L260.98,410.16 L261.80,408.94 L262.62,407.70 L263.43,406.43 L264.25,405.13 L265.07,403.81 L265.88,402.47 L266.70,401.10 L267.51,399.71 L268.33,398.30 L269.15,396.87 L269.96,395.42 L270.78,393.95 L271.59,392.46 L272.41,390.96 L273.23,389.44 L274.04,387.90 L274.86,386.35 L275.68,384.79 L276.49,383.22 L277.31,381.64 L278.12,380.04 L278.94,378.44 L279.76,376.84 L280.57,375.23 L281.39,373.61 L282.20,371.99 L283.02,370.38 L283.84,368.76 L284.65,367.14 L285.47,365.53 L286.29,363.92 L287.10,362.32 L287.92,360.72 L288.73,359.14 L289.55,357.57 L290.37,356.01 L291.18,354.46 L292.00,352.93 L292.81,351.42 L293.63,349.92 L294.45,348.45 L295.26,346.99 L296.08,345.57 L296.90,344.16 L297.71,342.78 L298.53,341.44 L299.34,340.12 L300.16,338.83 L300.98,337.57 L301.79,336.35 L302.61,335.16 L303.42,334.01 L304.24,332.90 L305.06,331.83 L305.87,330.79 L306.69,329.80 L307.51,328.86 L308.32,327.95 L309.14,327.09 L309.95,326.28 L310.77,325.52 L311.59,324.80 L312.40,324.13 L313.22,323.51 L314.04,322.94 L314.85,322.42 L315.67,321.96 L316.48,321.55 L317.30,321.18 L318.12,320.88 L318.93,320.62 L319.75,320.42 L320.56,320.28 L321.38,320.19 L322.20,320.15 L323.01,320.17 L323.83,320.24 L324.65,320.37 L325.46,320.55 L326.28,320.78 L327.09,321.07 L327.91,321.42 L328.73,321.81 L329.54,322.26 L330.36,322.76 L331.17,323.31 L331.99,323.91 L332.81,324.56 L333.62,325.26 L334.44,326.01 L335.26,326.81 L336.07,327.65 L336.89,328.54 L337.70,329.47 L338.52,330.45 L339.34,331.47 L340.15,332.53 L340.97,333.62 L341.78,334.76 L342.60,335.94 L343.42,337.15 L344.23,338.39 L345.05,339.67 L345.87,340.98 L346.68,342.32 L347.50,343.68 L348.31,345.08 L349.13,346.50 L349.95,347.94 L350.76,349.41 L351.58,350.90 L352.39,352.41 L353.21,353.93 L354.03,355.47 L354.84,357.03 L355.66,358.60 L356.48,360.18 L357.29,361.77 L358.11,363.37 L358.92,364.97 L359.74,366.59 L360.56,368.20 L361.37,369.82 L362.19,371.44 L363.01,373.05 L363.82,374.67 L364.64,376.28 L365.45,377.89 L366.27,379.49 L367.09,381.09 L367.90,382.68 L368.72,384.25 L369.53,385.82 L370.35,387.37 L371.17,388.91 L371.98,390.44 L372.80,391.95 L373.62,393.44 L374.43,394.91 L375.25,396.37 L376.06,397.81 L376.88,399.23 L377.70,400.62 L378.51,402.00 L379.33,403.35 L380.14,404.68 L380.96,405.98 L381.78,407.26 L382.59,408.52 L383.41,409.74 L384.23,410.95 L385.04,412.12 L385.86,413.27 L386.67,414.39 L387.49,415.48 L388.31,416.54 L389.12,417.58 L389.94,418.58 L390.75,419.56 L391.57,420.50 L392.39,421.42 L393.20,422.30 L394.02,423.16 L394.84,423.98 L395.65,424.77 L396.47,425.53 L397.28,426.27 L398.10,426.97 L398.92,427.64 L399.73,428.27 L400.55,428.88 L401.36,429.46 L402.18,430.00 L403.00,430.51 L403.81,430.99 L404.63,431.44 L405.45,431.86 L406.26,432.25 L407.08,432.61 L407.89,432.93 L408.71,433.22 L409.53,433.49 L410.34,433.72 L411.16,433.92 L411.98,434.09 L412.79,434.22 L413.61,434.33 L414.42,434.41 L415.24,434.45 L416.06,434.46 L416.87,434.44 L417.69,434.39 L418.50,434.31 L419.32,434.20 L420.14,434.06 L420.95,433.88 L421.77,433.68 L422.59,433.44 L423.40,433.17 L424.22,432.87 L425.03,432.54 L425.85,432.18 L426.67,431.79 L427.48,431.36 L428.30,430.91 L429.11,430.42 L429.93,429.90 L430.75,429.35 L431.56,428.77 L432.38,428.16 L433.20,427.52 L434.01,426.84 L434.83,426.14 L435.64,425.40 L436.46,424.63 L437.28,423.83 L438.09,423.00 L438.91,422.14 L439.72,421.25 L440.54,420.33 L441.36,419.38 L442.17,418.40 L442.99,417.39 L443.81,416.35 L444.62,415.28 L445.44,414.19 L446.25,413.06 L447.07,411.91 L447.89,410.73 L448.70,409.52 L449.52,408.29 L450.33,407.03 L451.15,405.75 L451.97,404.44 L452.78,403.11 L453.60,401.75 L454.42,400.37 L455.23,398.97 L456.05,397.55 L456.86,396.11 L457.68,394.65 L458.50,393.17 L459.31,391.67 L460.13,390.16 L460.95,388.63 L461.76,387.09 L462.58,385.54 L463.39,383.97 L464.21,382.39 L465.03,380.80 L465.84,379.21 L466.66,377.60 L467.47,375.99 L468.29,374.38 L469.11,372.76 L469.92,371.14 L470.74,369.53 L471.56,367.91 L472.37,366.29 L473.19,364.68 L474.00,363.08 L474.82,361.48 L475.64,359.89 L476.45,358.31 L477.27,356.75 L478.08,355.19 L478.90,353.65 L479.72,352.13 L480.53,350.63 L481.35,349.14 L482.17,347.68 L482.98,346.24 L483.80,344.83 L484.61,343.43 L485.43,342.07 L486.25,340.74 L487.06,339.44 L487.88,338.16 L488.69,336.92 L489.51,335.72 L490.33,334.55 L491.14,333.42 L491.96,332.33 L492.78,331.28 L493.59,330.27 L494.41,329.30 L495.22,328.38 L496.04,327.50 L496.86,326.66 L497.67,325.87 L498.49,325.13 L499.30,324.44 L500.12,323.80 L500.94,323.21 L501.75,322.66 L502.57,322.17 L503.39,321.74 L504.20,321.35 L505.02,321.02 L505.83,320.74 L506.65,320.51 L507.47,320.34 L508.28,320.22 L509.10,320.16 L509.92,320.15 L510.73,320.20 L511.55,320.30 L512.36,320.46 L513.18,320.67 L514.00,320.93 L514.81,321.25 L515.63,321.62 L516.44,322.04 L517.26,322.51 L518.08,323.04 L518.89,323.62 L519.71,324.25 L520.53,324.92 L521.34,325.65 L522.16,326.42 L522.97,327.25 L523.79,328.11 L524.61,329.02 L525.42,329.98 L526.24,330.98 L527.05,332.02 L527.87,333.10 L528.69,334.22 L529.50,335.37 L530.32,336.57 L531.14,337.80 L531.95,339.06 L532.77,340.35 L533.58,341.68 L534.40,343.03" fill="none" stroke="#0000ff" stroke-width="2.70" stroke-dasharray="8.8 2.5 4 2.5" stroke-dashoffset="0.00" stroke-linejoin="round"/>
<path d="M44.70,452.93 L45.52,452.72 L46.33,452.47 L47.15,452.17 L47.96,451.82 L48.78,451.44 L49.60,451.00 L50.41,450.52 L51.23,450.00 L52.05,449.43 L52.86,448.82 L53.68,448.16 L54.49,447.46 L55.31,446.71 L56.13,445.92 L56.94,445.09 L57.76,444.21 L58.57,443.29 L59.39,442.32 L60.21,441.32 L61.02,440.27 L61.84,439.17 L62.66,438.04 L63.47,436.87 L64.29,435.65 L65.10,434.40 L65.92,433.10 L66.74,431.77 L67.55,430.39 L68.37,428.98 L69.19,427.53 L70.00,426.04 L70.82,424.52 L71.63,422.96 L72.45,421.37 L73.27,419.74 L74.08,418.08 L74.90,416.39 L75.71,414.67 L76.53,412.91 L77.35,411.13 L78.16,409.32 L78.98,407.48 L79.80,405.61 L80.61,403.72 L81.43,401.81 L82.24,399.87 L83.06,397.91 L83.88,395.93 L84.69,393.93 L85.51,391.92 L86.32,389.88 L87.14,387.84 L87.96,385.78 L88.77,383.71 L89.59,381.63 L90.41,379.54 L91.22,377.44 L92.04,375.34 L92.85,373.24 L93.67,371.13 L94.49,369.03 L95.30,366.92 L96.12,364.82 L96.93,362.72 L97.75,360.64 L98.57,358.56 L99.38,356.49 L100.20,354.43 L101.02,352.39 L101.83,350.36 L102.65,348.36 L103.46,346.37 L104.28,344.41 L105.10,342.46 L105.91,340.55 L106.73,338.66 L107.54,336.80 L108.36,334.97 L109.18,333.18 L109.99,331.42 L110.81,329.70 L111.63,328.01 L112.44,326.37 L113.26,324.77 L114.07,323.21 L114.89,321.69 L115.71,320.22 L116.52,318.80 L117.34,317.43 L118.16,316.11 L118.97,314.85 L119.79,313.63 L120.60,312.48 L121.42,311.37 L122.24,310.33 L123.05,309.35 L123.87,308.42 L124.68,307.56 L125.50,306.75 L126.32,306.01 L127.13,305.34 L127.95,304.72 L128.77,304.17 L129.58,303.69 L130.40,303.28 L131.21,302.93 L132.03,302.64 L132.85,302.43 L133.66,302.28 L134.48,302.20 L135.29,302.18 L136.11,302.24 L136.93,302.36 L137.74,302.55 L138.56,302.81 L139.38,303.13 L140.19,303.52 L141.01,303.98 L141.82,304.50 L142.64,305.09 L143.46,305.74 L144.27,306.45 L145.09,307.23 L145.90,308.07 L146.72,308.97 L147.54,309.93 L148.35,310.96 L149.17,312.03 L149.99,313.17 L150.80,314.36 L151.62,315.61 L152.43,316.91 L153.25,318.26 L154.07,319.66 L154.88,321.11 L155.70,322.60 L156.51,324.14 L157.33,325.73 L158.15,327.36 L158.96,329.03 L159.78,330.74 L160.60,332.48 L161.41,334.26 L162.23,336.08 L163.04,337.92 L163.86,339.80 L164.68,341.71 L165.49,343.64 L166.31,345.59 L167.13,347.57 L167.94,349.57 L168.76,351.59 L169.57,353.62 L170.39,355.67 L171.21,357.74 L172.02,359.81 L172.84,361.90 L173.65,363.99 L174.47,366.09 L175.29,368.19 L176.10,370.30 L176.92,372.41 L177.74,374.51 L178.55,376.61 L179.37,378.71 L180.18,380.80 L181.00,382.89 L181.82,384.96 L182.63,387.03 L183.45,389.08 L184.26,391.12 L185.08,393.14 L185.90,395.14 L186.71,397.13 L187.53,399.10 L188.35,401.04 L189.16,402.97 L189.98,404.87 L190.79,406.74 L191.61,408.59 L192.43,410.42 L193.24,412.21 L194.06,413.98 L194.87,415.71 L195.69,417.42 L196.51,419.09 L197.32,420.73 L198.14,422.34 L198.96,423.91 L199.77,425.45 L200.59,426.95 L201.40,428.41 L202.22,429.84 L203.04,431.23 L203.85,432.58 L204.67,433.89 L205.48,435.16 L206.30,436.39 L207.12,437.58 L207.93,438.73 L208.75,439.84 L209.57,440.91 L210.38,441.93 L211.20,442.91 L212.01,443.85 L212.83,444.74 L213.65,445.60 L214.46,446.40 L215.28,447.17 L216.10,447.89 L216.91,448.56 L217.73,449.19 L218.54,449.78 L219.36,450.32 L220.18,450.82 L220.99,451.27 L221.81,451.68 L222.62,452.04 L223.44,452.35 L224.26,452.62 L225.07,452.85 L225.89,453.03 L226.71,453.16 L227.52,453.25 L228.34,453.29 L229.15,453.29 L229.97,453.24 L230.79,453.15 L231.60,453.01 L232.42,452.82 L233.23,452.59 L234.05,452.32 L234.87,451.99 L235.68,451.63 L236.50,451.21 L237.32,450.76 L238.13,450.25 L238.95,449.71 L239.76,449.11 L240.58,448.48 L241.40,447.80 L242.21,447.07 L243.03,446.30 L243.84,445.49 L244.66,444.63 L245.48,443.73 L246.29,442.79 L247.11,441.80 L247.93,440.77 L248.74,439.70 L249.56,438.58 L250.37,437.43 L251.19,436.23 L252.01,435.00 L252.82,433.72 L253.64,432.40 L254.45,431.05 L255.27,429.66 L256.09,428.22 L256.90,426.76 L257.72,425.25 L258.54,423.71 L259.35,422.13 L260.17,420.52 L260.98,418.88 L261.80,417.20 L262.62,415.49 L263.43,413.75 L264.25,411.98 L265.07,410.18 L265.88,408.35 L266.70,406.50 L267.51,404.62 L268.33,402.72 L269.15,400.79 L269.96,398.84 L270.78,396.87 L271.59,394.88 L272.41,392.88 L273.23,390.85 L274.04,388.81 L274.86,386.76 L275.68,384.69 L276.49,382.62 L277.31,380.53 L278.12,378.44 L278.94,376.34 L279.76,374.24 L280.57,372.13 L281.39,370.03 L282.20,367.92 L283.02,365.82 L283.84,363.72 L284.65,361.63 L285.47,359.54 L286.29,357.47 L287.10,355.41 L287.92,353.36 L288.73,351.32 L289.55,349.31 L290.37,347.31 L291.18,345.34 L292.00,343.38 L292.81,341.46 L293.63,339.55 L294.45,337.68 L295.26,335.84 L296.08,334.03 L296.90,332.25 L297.71,330.51 L298.53,328.81 L299.34,327.14 L300.16,325.52 L300.98,323.94 L301.79,322.40 L302.61,320.91 L303.42,319.47 L304.24,318.08 L305.06,316.73 L305.87,315.44 L306.69,314.20 L307.51,313.02 L308.32,311.89 L309.14,310.82 L309.95,309.81 L310.77,308.85 L311.59,307.96 L312.40,307.13 L313.22,306.36 L314.04,305.65 L314.85,305.01 L315.67,304.43 L316.48,303.91 L317.30,303.47 L318.12,303.08 L318.93,302.77 L319.75,302.52 L320.56,302.34 L321.38,302.23 L322.20,302.18 L323.01,302.20 L323.83,302.29 L324.65,302.45 L325.46,302.68 L326.28,302.97 L327.09,303.33 L327.91,303.75 L328.73,304.24 L329.54,304.80 L330.36,305.42 L331.17,306.11 L331.99,306.85 L332.81,307.66 L333.62,308.54 L334.44,309.47 L335.26,310.46 L336.07,311.52 L336.89,312.62 L337.70,313.79 L338.52,315.01 L339.34,316.28 L340.15,317.61 L340.97,318.99 L341.78,320.41 L342.60,321.89 L343.42,323.41 L344.23,324.97 L345.05,326.58 L345.87,328.23 L346.68,329.92 L347.50,331.65 L348.31,333.41 L349.13,335.21 L349.95,337.04 L350.76,338.91 L351.58,340.80 L352.39,342.72 L353.21,344.66 L354.03,346.63 L354.84,348.62 L355.66,350.63 L356.48,352.66 L357.29,354.70 L358.11,356.76 L358.92,358.83 L359.74,360.91 L360.56,363.00 L361.37,365.09 L362.19,367.20 L363.01,369.30 L363.82,371.41 L364.64,373.51 L365.45,375.62 L366.27,377.72 L367.09,379.81 L367.90,381.90 L368.72,383.98 L369.53,386.05 L370.35,388.11 L371.17,390.15 L371.98,392.18 L372.80,394.19 L373.62,396.19 L374.43,398.17 L375.25,400.12 L376.06,402.06 L376.88,403.97 L377.70,405.86 L378.51,407.72 L379.33,409.55 L380.14,411.36 L380.96,413.14 L381.78,414.89 L382.59,416.61 L383.41,418.30 L384.23,419.96 L385.04,421.58 L385.86,423.17 L386.67,424.72 L387.49,426.24 L388.31,427.72 L389.12,429.17 L389.94,430.57 L390.75,431.94 L391.57,433.27 L392.39,434.56 L393.20,435.81 L394.02,437.02 L394.84,438.19 L395.65,439.32 L396.47,440.41 L397.28,441.45 L398.10,442.45 L398.92,443.41 L399.73,444.32 L400.55,445.20 L401.36,446.03 L402.18,446.81 L403.00,447.55 L403.81,448.25 L404.63,448.90 L405.45,449.51 L406.26,450.07 L407.08,450.59 L407.89,451.06 L408.71,451.49 L409.53,451.87 L410.34,452.21 L411.16,452.50 L411.98,452.75 L412.79,452.95 L413.61,453.10 L414.42,453.21 L415.24,453.28 L416.06,453.30 L416.87,453.27 L417.69,453.20 L418.50,453.08 L419.32,452.92 L420.14,452.71 L420.95,452.45 L421.77,452.15 L422.59,451.81 L423.40,451.42 L424.22,450.98 L425.03,450.50 L425.85,449.97 L426.67,449.40 L427.48,448.79 L428.30,448.13 L429.11,447.42 L429.93,446.67 L430.75,445.88 L431.56,445.04 L432.38,444.16 L433.20,443.24 L434.01,442.27 L434.83,441.26 L435.64,440.21 L436.46,439.12 L437.28,437.98 L438.09,436.81 L438.91,435.59 L439.72,434.33 L440.54,433.03 L441.36,431.70 L442.17,430.32 L442.99,428.91 L443.81,427.46 L444.62,425.97 L445.44,424.44 L446.25,422.88 L447.07,421.29 L447.89,419.66 L448.70,418.00 L449.52,416.31 L450.33,414.58 L451.15,412.82 L451.97,411.04 L452.78,409.23 L453.60,407.38 L454.42,405.52 L455.23,403.62 L456.05,401.71 L456.86,399.77 L457.68,397.81 L458.50,395.83 L459.31,393.83 L460.13,391.81 L460.95,389.78 L461.76,387.74 L462.58,385.68 L463.39,383.60 L464.21,381.52 L465.03,379.43 L465.84,377.34 L466.66,375.24 L467.47,373.13 L468.29,371.03 L469.11,368.92 L469.92,366.82 L470.74,364.71 L471.56,362.62 L472.37,360.53 L473.19,358.45 L474.00,356.38 L474.82,354.33 L475.64,352.29 L476.45,350.26 L477.27,348.26 L478.08,346.27 L478.90,344.31 L479.72,342.37 L480.53,340.45 L481.35,338.57 L482.17,336.71 L482.98,334.88 L483.80,333.09 L484.61,331.33 L485.43,329.61 L486.25,327.93 L487.06,326.29 L487.88,324.69 L488.69,323.13 L489.51,321.62 L490.33,320.15 L491.14,318.73 L491.96,317.37 L492.78,316.05 L493.59,314.78 L494.41,313.57 L495.22,312.42 L496.04,311.32 L496.86,310.28 L497.67,309.30 L498.49,308.38 L499.30,307.51 L500.12,306.71 L500.94,305.98 L501.75,305.30 L502.57,304.69 L503.39,304.15 L504.20,303.67 L505.02,303.26 L505.83,302.91 L506.65,302.63 L507.47,302.42 L508.28,302.27 L509.10,302.19 L509.92,302.18 L510.73,302.24 L511.55,302.37 L512.36,302.56 L513.18,302.82 L514.00,303.15 L514.81,303.54 L515.63,304.00 L516.44,304.53 L517.26,305.12 L518.08,305.77 L518.89,306.49 L519.71,307.27 L520.53,308.12 L521.34,309.02 L522.16,309.98 L522.97,311.01 L523.79,312.09 L524.61,313.23 L525.42,314.42 L526.24,315.67 L527.05,316.97 L527.87,318.33 L528.69,319.73 L529.50,321.18 L530.32,322.68 L531.14,324.22 L531.95,325.81 L532.77,327.44 L533.58,329.11 L534.40,330.82" fill="none" stroke="#00ffff" stroke-width="2.70" stroke-dasharray="8.8 2.5 4 2.5" stroke-dashoffset="4.00" stroke-linejoin="round"/>
<path d="M44.70,282.10 L44.70,466.30 L534.40,466.30" fill="none" stroke="#5e5e5e" stroke-width="1.2"/>
<line x1="76.40" y1="466.30" x2="76.40" y2="461.50" stroke="#5e5e5e" stroke-width="1.2"/>
<line x1="124.18" y1="466.30" x2="124.18" y2="461.50" stroke="#5e5e5e" stroke-width="1.2"/>
<line x1="171.96" y1="466.30" x2="171.96" y2="461.50" stroke="#5e5e5e" stroke-width="1.2"/>
<line x1="219.73" y1="466.30" x2="219.73" y2="461.50" stroke="#5e5e5e" stroke-width="1.2"/>
<line x1="267.51" y1="466.30" x2="267.51" y2="461.50" stroke="#5e5e5e" stroke-width="1.2"/>
<line x1="315.29" y1="466.30" x2="315.29" y2="461.50" stroke="#5e5e5e" stroke-width="1.2"/>
<line x1="363.07" y1="466.30" x2="363.07" y2="461.50" stroke="#5e5e5e" stroke-width="1.2"/>
<line x1="410.85" y1="466.30" x2="410.85" y2="461.50" stroke="#5e5e5e" stroke-width="1.2"/>
<line x1="458.62" y1="466.30" x2="458.62" y2="461.50" stroke="#5e5e5e" stroke-width="1.2"/>
<line x1="506.40" y1="466.30" x2="506.40" y2="461.50" stroke="#5e5e5e" stroke-width="1.2"/>
<line x1="44.70" y1="428.40" x2="49.50" y2="428.40" stroke="#5e5e5e" stroke-width="1.2"/>
<line x1="44.70" y1="385.10" x2="49.50" y2="385.10" stroke="#5e5e5e" stroke-width="1.2"/>
<line x1="44.70" y1="341.80" x2="49.50" y2="341.80" stroke="#5e5e5e" stroke-width="1.2"/>
<line x1="44.70" y1="298.50" x2="49.50" y2="298.50" stroke="#5e5e5e" stroke-width="1.2"/>
<text x="76.40" y="485.00" text-anchor="middle" class="tk">200</text>
<text x="124.18" y="485.00" text-anchor="middle" class="tk">400</text>
<text x="171.96" y="485.00" text-anchor="middle" class="tk">600</text>
<text x="219.73" y="485.00" text-anchor="middle" class="tk">800</text>
<text x="267.51" y="485.00" text-anchor="middle" class="tk">1000</text>
<text x="315.29" y="485.00" text-anchor="middle" class="tk">1200</text>
<text x="363.07" y="485.00" text-anchor="middle" class="tk">1400</text>
<text x="410.85" y="485.00" text-anchor="middle" class="tk">1600</text>
<text x="458.62" y="485.00" text-anchor="middle" class="tk">1800</text>
<text x="506.40" y="485.00" text-anchor="middle" class="tk">2000</text>
<text x="40.30" y="434.00" text-anchor="end" class="tk">-1</text>
<text x="40.30" y="390.70" text-anchor="end" class="tk">0</text>
<text x="40.30" y="347.40" text-anchor="end" class="tk">1</text>
<text x="40.30" y="304.10" text-anchor="end" class="tk">2</text>
<text transform="translate(46.30,278.60)" class="ex"><tspan font-size="12.5px" fill="#555">&#215;</tspan><tspan dx="2.4">10</tspan><tspan class="exs" dx="0.6" dy="-6.1">-5</tspan></text>
<text transform="translate(178.00,276.90)" class="ti">(b) Error of prediction and validation</text>
<text transform="translate(289.70,502.40) scale(1.0450,1)" text-anchor="middle" class="xl">time [s]</text>
<text transform="translate(20.00,375.00) rotate(-90) scale(1.1340,1)" text-anchor="middle" class="yl">error of <tspan class="ypsi">&#968;</tspan><tspan class="ysup" dy="-5.5">(3)</tspan><tspan dy="5.5" dx="2"> [rad/</tspan><tspan class="it">s</tspan><tspan class="ysup" dy="-5.5">3</tspan><tspan dy="5.5">]</tspan></text>
</svg>
</body></html>
